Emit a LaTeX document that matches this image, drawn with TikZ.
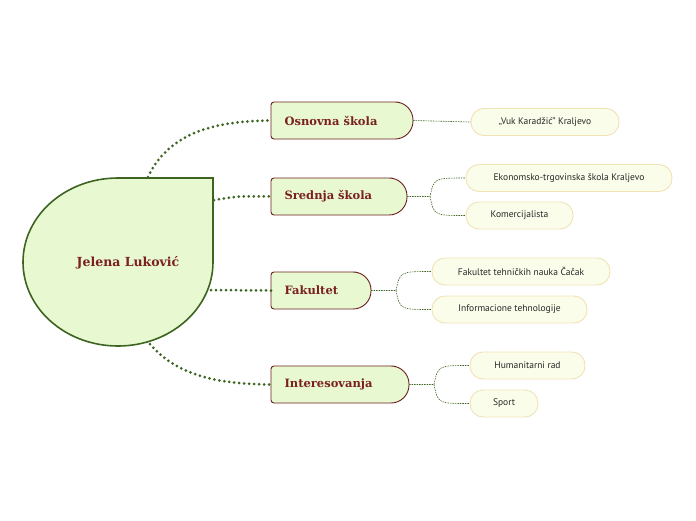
\documentclass[tikz,border=0pt]{standalone}
\usepackage{fontspec}
\setmainfont{PT Sans}
\newfontfamily\bfam{DejaVu Serif}
\begin{document}
\begin{tikzpicture}[x=1pt,y=-1pt,
 br/.style={draw=brd,fill=bfill,line width=0.9pt,rounded corners=3pt},
 bt/.style={font=\bfam\bfseries\fontsize{11.5}{13}\selectfont,text=tred,anchor=west},
 lf/.style={draw=lbrd,fill=lfill,line width=0.9pt,rounded corners=13pt,minimum height=27pt,inner xsep=12pt,font=\fontsize{9.5}{11}\selectfont,text=black!85},
 mc/.style={draw=dgreen,line width=3pt,dash pattern=on 0pt off 5pt,line cap=round},
 lc/.style={draw=dgreen,line width=0.6pt,dash pattern=on 1.5pt off 1pt}]
\definecolor{brd}{HTML}{6B1F1F}
\definecolor{tred}{HTML}{7A2020}
\definecolor{bfill}{HTML}{E8F9D2}
\definecolor{lbrd}{HTML}{F0E2B6}
\definecolor{lfill}{HTML}{FBFDEB}
\definecolor{dgreen}{HTML}{3D6420}
\useasboundingbox (0,0) rectangle (696,520);
% central
\filldraw[fill=bfill,draw=dgreen,line width=1.6pt] (118,178) -- (213,178) -- (213,262) arc[start angle=0,end angle=270,x radius=95,y radius=84] -- cycle;
\node[font=\bfam\bfseries\fontsize{12.5}{14}\selectfont,text=tred] (c) at (128,263) {Jelena Luković};
\coordinate (c1) at (148,177); \coordinate (c2) at (214,200);
\coordinate (c3) at (211,290); \coordinate (c4) at (150,344);
% branches
\newcommand\branch[5]{%
 \path[br] (271,#2) -- (#3-18,#2) [rounded corners=18pt] -- (#3,#2) -- (#3,#2+37) [rounded corners=3pt] -- (271,#2+37) -- cycle;
 \node[bt] (#1) at (281,#2+18.5) {#4};
 \coordinate (#1L) at (271,#2+18.5); \coordinate (#1R) at (#3,#2+18.5);}
\branch{b1}{102}{413}{Osnovna škola}{}
\branch{b2}{178}{407}{Srednja škola}{}
\branch{b3}{272}{371}{Fakultet}{}
\branch{b4}{366}{409}{Interesovanja}{}
\draw[mc] (c1) .. controls (170,130) and (220,121) .. (b1L);
\draw[mc] (c2) .. controls (240,196) .. (b2L);
\draw[mc] (c3) -- (b3L);
\draw[mc] (c4) .. controls (180,380) and (230,384) .. (b4L);
% leaves
\node[lf,minimum width=148pt] (l1) at (545,122) {„Vuk Karadžić" Kraljevo};
\node[lf,minimum width=206pt] (l2) at (569,178) {Ekonomsko-trgovinska škola Kraljevo};
\node[lf,minimum width=107pt] (l3) at (519.5,215.5) {Komercijalista};
\node[lf,minimum width=178pt] (l4) at (521,271.5) {Fakultet tehničkih nauka Čačak};
\node[lf,minimum width=155pt] (l5) at (509.5,309.5) {Informacione tehnologije};
\node[lf,minimum width=115pt] (l6) at (527.5,365.5) {Humanitarni rad};
\node[lf,minimum width=68pt] (l7) at (504,403.5) {Sport};
\draw[lc] (b1R) -- (l1.west);
\draw[lc] (b2R) -- (430,196.5) .. controls (434,178) .. (l2.west);
\draw[lc] (430,196.5) .. controls (434,215.5) .. (l3.west);
\draw[lc] (b3R) -- (396,290.5) .. controls (400,271.5) .. (l4.west);
\draw[lc] (396,290.5) .. controls (400,309.5) .. (l5.west);
\draw[lc] (b4R) -- (434,384.5) .. controls (438,365.5) .. (l6.west);
\draw[lc] (434,384.5) .. controls (438,403.5) .. (l7.west);
\end{tikzpicture}
\end{document}
